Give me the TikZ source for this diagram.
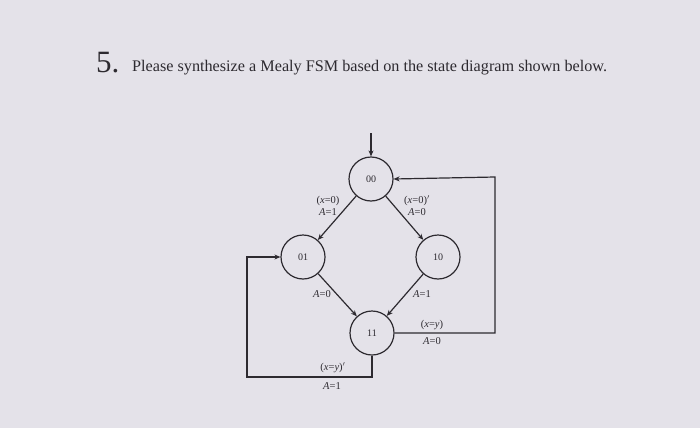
\documentclass[tikz,border=0pt]{standalone}
\usepackage{fontspec}
\setmainfont{Liberation Serif}
\usetikzlibrary{arrows.meta}
\definecolor{bg}{RGB}{228,226,233}
\definecolor{ink}{RGB}{45,42,48}
\newcommand{\iv}[1]{\textit{#1}}
\tikzset{
  state/.style={circle,draw=ink,line width=1.2pt,minimum size=44pt,inner sep=0pt,font=\fontsize{10}{10}\selectfont,text=ink},
  conn/.style={draw=ink,line width=1.2pt,-{Stealth[length=6pt,width=5pt]}},
  lbl/.style={font=\fontsize{10.5}{11}\selectfont,text=ink,inner sep=0pt,align=center}
}
\begin{document}
\begin{tikzpicture}[x=1pt,y=-1pt]
\fill[bg] (0,0) rectangle (700,428);
\useasboundingbox (0,0) rectangle (700,428);
\node[text=ink,anchor=base west,font=\fontsize{31}{31}\selectfont,inner sep=0pt] (num) at (96,72) {5.};
\node[text=ink,anchor=base west,font=\fontsize{16.2}{16}\selectfont,inner sep=0pt] (title) at (132,71) {Please synthesize a Mealy FSM based on the state diagram shown below.};
\node[state] (s00) at (371,179) {00};
\node[state] (s01) at (303,257) {01};
\node[state] (s10) at (438,257) {10};
\node[state] (s11) at (372,333) {11};
\coordinate (init) at (371,133);
\coordinate (r1) at (495,333);
\coordinate (r2) at (495,177);
\coordinate (b1) at (372,377);
\coordinate (b2) at (247,377);
\coordinate (b3) at (247,257);
\draw[conn] (init) -- (s00);
\draw[conn] (s00) -- (s01);
\draw[conn] (s00) -- (s10);
\draw[conn] (s01) -- (s11);
\draw[conn] (s10) -- (s11);
\draw[conn] (s11.east) -- (r1) -- (r2) -- (s00.east);
\draw[conn] (s11.south) -- (b1) -- (b2) -- (b3) -- (s01.west);
\node[lbl] (l1) at (328,206) {(\iv{x}=0)\\[1pt]\iv{A}=1};
\node[lbl] (l2) at (417,206) {(\iv{x}=0)$'$\\[1pt]\iv{A}=0};
\node[lbl] (l3) at (322,294) {\iv{A}=0};
\node[lbl] (l4) at (422,294) {\iv{A}=1};
\node[lbl] (l5) at (432,325) {(\iv{x}=\iv{y})};
\node[lbl] (l6) at (432,341) {\iv{A}=0};
\node[lbl] (l7) at (333,368) {(\iv{x}=\iv{y})$'$};
\node[lbl] (l8) at (332,386) {\iv{A}=1};
\end{tikzpicture}
\end{document}
